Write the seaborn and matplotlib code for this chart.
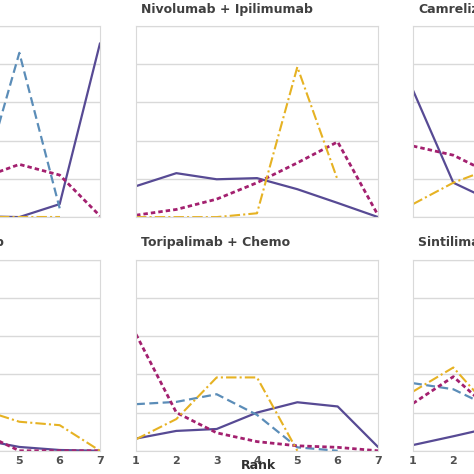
import pandas as pd
import matplotlib.pyplot as plt
import seaborn as sns

ranks = [1, 2, 3, 4, 5, 6, 7]
series = ["solid", "dashed", "dotted", "dashdot"]

# panel values per rank (None = not drawn)
pembro = {
    "solid":   [0.02, 0.02, 0.02, 0.02, 0.0, 0.34, 4.55],
    "dashed":  [0.3, 0.4, 0.5, 0.6, 4.3, 0.23, None],
    "dotted":  [0.8, 0.9, 1.0, 1.0, 1.38, 1.1, 0.03],
    "dashdot": [0.0, 0.0, 0.0, 0.0, 0.0, 0.0, None],
}
nivo_ipi = {
    "solid":   [0.81, 1.15, 0.99, 1.02, 0.73, 0.37, 0.0],
    "dashed":  [None] * 7,
    "dotted":  [0.05, 0.2, 0.47, 0.9, 1.42, 1.97, 0.05],
    "dashdot": [0.0, 0.0, 0.0, 0.1, 3.93, 0.97, None],
}
camreli = {
    "solid":   [3.32, 0.9, 0.4, 0.3, 0.2, 0.1, 0.0],
    "dashed":  [None] * 7,
    "dotted":  [1.86, 1.62, 1.1, 0.8, 0.5, 0.3, 0.1],
    "dashdot": [0.34, 0.9, 1.3, 1.2, 0.8, 0.5, 0.2],
}
left_bottom = {
    "solid":   [0.3, 0.3, 0.3, 0.3, 0.1, 0.02, 0.0],
    "dashed":  [None] * 7,
    "dotted":  [0.6, 0.6, 0.5, 0.5, 0.0, 0.0, 0.0],
    "dashdot": [1.0, 1.0, 1.1, 1.1, 0.76, 0.67, 0.0],
}
tori_chemo = {
    "solid":   [0.32, 0.52, 0.57, 1.0, 1.27, 1.16, 0.1],
    "dashed":  [1.22, 1.28, 1.48, 0.94, 0.09, 0.0, None],
    "dotted":  [3.05, 1.0, 0.47, 0.24, 0.13, 0.09, 0.0],
    "dashdot": [0.3, 0.83, 1.92, 1.92, 0.0, None, None],
}
sinti = {
    "solid":   [0.15, 0.38, 0.62, 0.8, 0.9, 1.0, 1.0],
    "dashed":  [1.77, 1.61, 1.1, 0.9, 0.7, 0.5, 0.3],
    "dotted":  [1.24, 1.94, 1.0, 0.8, 0.6, 0.4, 0.2],
    "dashdot": [1.55, 2.18, 1.0, 0.8, 0.6, 0.4, 0.2],
}

colors = {"solid": "#574a94", "dashed": "#5b8db8", "dotted": "#a3206f", "dashdot": "#e6b223"}
dashes = {"solid": (None, None), "dashed": (0, (4, 2)), "dotted": (0, (1.6, 1.1)),
          "dashdot": (0, (5, 1.5, 1, 1.5))}
widths = {"solid": 1.6, "dashed": 1.6, "dotted": 2.0, "dashdot": 1.5}

sns.set_style("white")
fig = plt.figure(figsize=(4.74, 4.74), dpi=100)

W = 242 / 474
H = 191 / 474
panels = [
    (pembro, -142 / 474, 0.542, "Pembrolizumab", False),
    (nivo_ipi, 136 / 474, 0.542, "Nivolumab + Ipilimumab", False),
    (camreli, 413 / 474, 0.542, "Camrelizumab", False),
    (left_bottom, -142 / 474, 0.049, "Pembrolizumab + Lenvatinib", True),
    (tori_chemo, 136 / 474, 0.049, "Toripalimab + Chemo", True),
    (sinti, 413 / 474, 0.049, "Sintilimab + IBI305", True),
]

for vals, left, bottom, title, labels in panels:
    ax = fig.add_axes([left, bottom, W, H])
    for s in series:
        df = pd.DataFrame({"rank": ranks, "p": vals[s]}).dropna()
        if df.empty:
            continue
        sns.lineplot(data=df, x="rank", y="p", ax=ax, color=colors[s], lw=widths[s])
        if s != "solid":
            ax.lines[-1].set_linestyle(dashes[s])
    ax.set_xlim(1, 7)
    ax.set_ylim(0, 5)
    ax.set_yticks([0, 1, 2, 3, 4, 5])
    ax.set_yticklabels([])
    ax.set_xticks(ranks)
    ax.grid(axis="y", color="#d9d9d9", lw=1)
    for sp in ax.spines.values():
        sp.set_color("#d9d9d9")
    ax.tick_params(axis="x", length=3, color="#d9d9d9", labelsize=8, labelcolor="#505050", pad=1)
    ax.tick_params(axis="y", length=0)
    if labels:
        ax.set_xticklabels([str(r) for r in ranks], fontweight="bold")
    else:
        ax.set_xticklabels([])
    ax.set_xlabel("")
    ax.set_ylabel("")
    if left < 0:
        if labels:
            fig.text(4 / 474, bottom + H + 17 / 474, title[-1:], ha="right", va="center",
                     fontsize=9, fontweight="bold", color="#404040")
    else:
        fig.text(left + 5 / 474, bottom + H + 17 / 474, title, ha="left", va="center",
                 fontsize=9, fontweight="bold", color="#404040")

fig.text(259 / 474, 2 / 474, "Rank", ha="center", va="bottom", fontsize=9,
         fontweight="bold", color="#303030")
fig.savefig("out.png", dpi=100)
